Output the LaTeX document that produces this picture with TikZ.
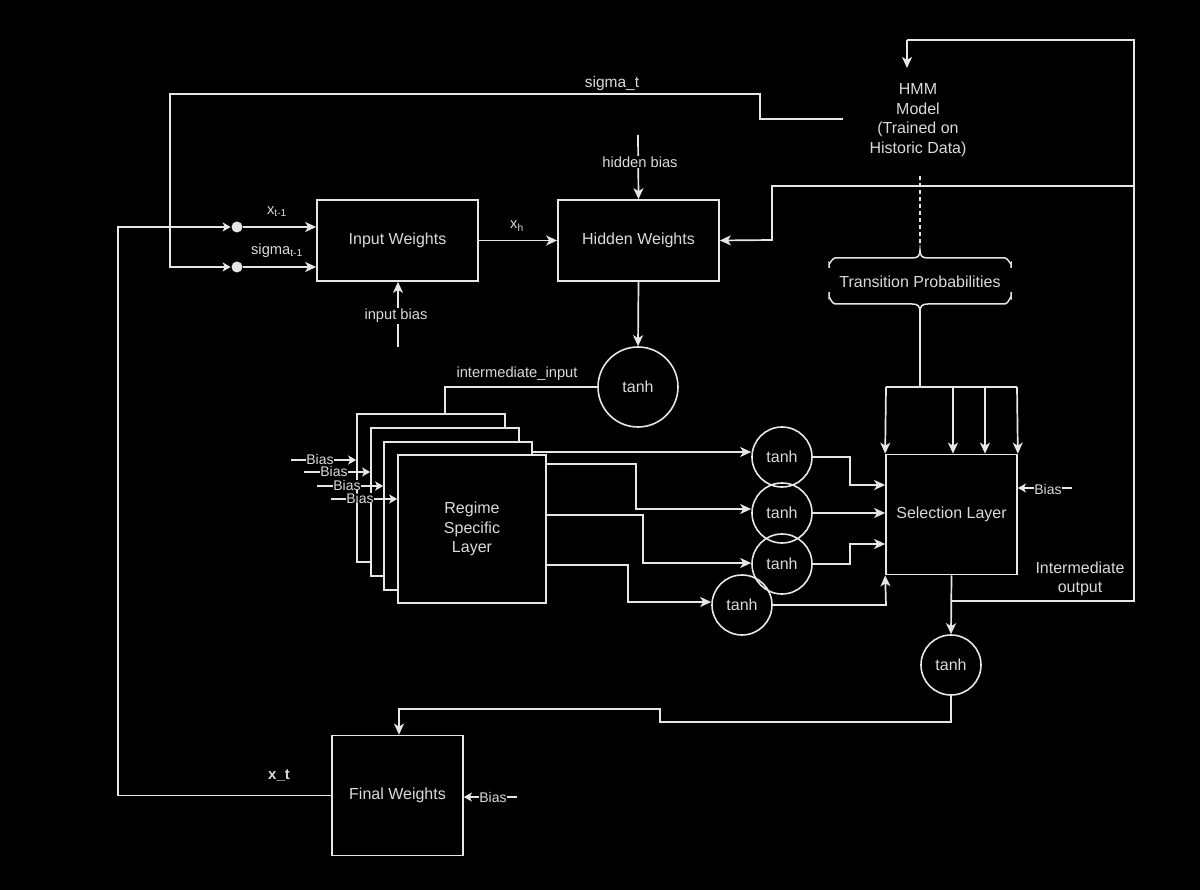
\documentclass[tikz,border=0pt]{standalone}
\usepackage{fontspec}
\setmainfont{Liberation Sans}
\usetikzlibrary{arrows.meta,calc}
\definecolor{fg}{HTML}{E6E6E6}
\definecolor{tx}{HTML}{DADADA}
\begin{document}
\begin{tikzpicture}[x=1pt,y=-1pt,
  color=fg, line width=1.7pt,
  every node/.style={text=tx, font=\fontsize{16}{19.5}\selectfont},
  box/.style={draw=fg, fill=black, line width=1.7pt, inner sep=0pt, align=center},
  circ/.style={draw=fg, circle, line width=1.6pt, inner sep=0pt, minimum size=60pt},
  lbl/.style={font=\fontsize{14.7}{17}\selectfont, inner sep=1pt},
  lblbg/.style={lbl, fill=black},
  arr/.style={-{Stealth[length=11pt,width=10pt,inset=3pt]}},
  arrsm/.style={-{Stealth[length=8pt,width=9pt,inset=2pt]}},
  dot/.style={circle, fill=fg, minimum size=11pt, inner sep=0pt},
  biasl/.style={font=\fontsize{14}{16}\selectfont, fill=black, inner sep=0.3pt},
]
\fill[black] (0,0) rectangle (1200,890);
\useasboundingbox (0,0) rectangle (1200,890);

% main boxes
\node[box, minimum width=161pt, minimum height=81pt] (iw) at (397.5,240.5) {Input Weights};
\node[box, minimum width=161pt, minimum height=81pt] (hw) at (638.5,240.5) {Hidden Weights};
\node[box, minimum width=131pt, minimum height=120pt] (sel) at (951.5,514.5) {Selection Layer};
\node[box, minimum width=131pt, minimum height=120pt] (fw) at (397.5,795.5) {Final Weights};

% regime stack
\node[box, minimum width=148pt, minimum height=148pt] (r1) at (431,488) {};
\node[box, minimum width=148pt, minimum height=148pt] (r2) at (445,502) {};
\node[box, minimum width=148pt, minimum height=148pt] (r3) at (458,516) {};
\node[box, minimum width=148pt, minimum height=148pt] (r4) at (472,529) {Regime\\Specific\\Layer};

% HMM
\node[align=center, inner sep=0pt] (hmm) at (918,120) {HMM\\Model\\(Trained on\\Historic Data)};

% tanh circles
\node[circ, minimum size=80pt] (th0) at (638,387) {tanh};
\node[circ] (t1) at (782,457) {tanh};
\node[circ] (t2) at (782,513) {tanh};
\node[circ] (t3) at (782,564) {tanh};
\node[circ] (t4) at (742,605) {tanh};
\node[circ] (tf) at (951,665) {tanh};

% dots
\node[dot] (d1) at (237,227) {};
\node[dot] (d2) at (237,267) {};

% coordinates
\coordinate (hb) at (638,135);
\coordinate (ib) at (398,347);
\coordinate (hmmL) at (843,119);
\coordinate (hmmT) at (907,68);
\coordinate (hmmB) at (920,176);
\coordinate (selout) at (951,601);
\coordinate (loopR) at (1134,601);
\coordinate (loopTop) at (1134,40);
\coordinate (branch) at (1134,186);

% inputs to input weights
\draw[arr] (d1) -- (iw.west |- d1);
\draw[arr] (d2) -- (iw.west |- d2);
\node[lbl] at (277,212) {x\textsubscript{t-1}};
\node[lbl] at (277,251) {sigma\textsubscript{t-1}};

% input bias
\draw[arr] (ib) -- (iw.south -| ib);
\node[lblbg] at (396,316) {input bias};

% hidden bias
\draw[arr] (hb) -- (hw.north);
\node[lblbg] at (640,162) {hidden bias};

% xh
\draw[arr] (iw.east) -- (hw.west);
\node[lbl] at (517,226) {x\textsubscript{h}};

% hidden -> tanh
\draw[arr] (hw.south) -- (th0.north);

% intermediate input
\draw (th0.west) -- (445,387) -- (445,414);
\node[lbl] at (517,374) {intermediate\_input};

% bias to regime layers
\draw[arrsm] (291,460) -- (r1.west |- 0,460);
\draw[arrsm] (304,472) -- (r2.west |- 0,472);
\draw[arrsm] (317,486) -- (r3.west |- 0,486);
\draw[arrsm] (331,499) -- (r4.west |- 0,499);
\node[biasl] at (320,459) {Bias};
\node[biasl] at (334,471) {Bias};
\node[biasl] at (347,485) {Bias};
\node[biasl] at (360,498) {Bias};

% regime -> tanh
\draw[arr] (r3.east |- 0,452) -- (t1.west |- 0,452);
\draw[arr] (r4.east |- 0,464) -- (636,464) -- (636,509) -- (t2.west |- 0,509);
\draw[arr] (r4.east |- 0,515) -- (643,515) -- (643,563) -- (t3.west |- 0,563);
\draw[arr] (r4.east |- 0,565) -- (628,565) -- (628,602) -- (t4.west |- 0,602);

% tanh -> selection
\draw[arr] (t1.east) -- (850,457) -- (850,485) -- (sel.west |- 0,485);
\draw[arr] (t2.east) -- (sel.west |- t2.east);
\draw[arr] (t3.east) -- (850,564) -- (850,544) -- (sel.west |- 0,544);
\draw[arr] (t4.east) -- (886,605) -- (sel.south west);

% bias to selection
\draw[arrsm] (1072,488) -- (sel.east |- 0,488);
\node[biasl] at (1048,489) {Bias};

% selection -> tanh -> final
\draw[arr] (sel.south) -- (tf.north);
\draw[arr] (tf.south) -- (951,722) -- (660,722) -- (660,709) -- (399,709) -- (fw.north -| 399,0);
\draw[arrsm] (517,797) -- (fw.east |- 0,797);
\node[biasl] at (493,797) {Bias};

% intermediate output loop
\draw (selout) -- (loopR) -- (loopTop) -- (907,40);
\draw[arr] (907,40) -- (hmmT);
\draw[arr] (branch) -- (772,186) -- (772,240) -- (hw.east);
\node[align=center, inner sep=0pt] at (1080,579) {Intermediate\\output};

% sigma_t loop
\draw[arrsm] (hmmL) -- (760,119) -- (760,94) -- (170,94) -- (170,267) -- (d2.west);
\node[lbl, font=\fontsize{15.5}{18}\selectfont] at (612,83) {sigma\_t};

% x_t loop
\draw[arrsm] (fw.west) -| (118,227) -- (d1.west);
\node[lbl, font=\bfseries\fontsize{15}{18}\selectfont] at (279,776) {x\_t};

% HMM -> transition probabilities
\draw[dash pattern=on 4pt off 3pt] (hmmB) -- (920,245);
\node[inner sep=0pt] (tp) at (920,282) {Transition Probabilities};
\draw[line width=1.5pt] (829,268) -- (829,263) to[out=-90,in=180] (835,258) -- (912,258)
  .. controls (918,258) and (920,256) .. (920,250)
  .. controls (920,256) and (922,258) .. (928,258) -- (1005,258) to[out=0,in=-90] (1011,263) -- (1011,268);
\draw[line width=1.5pt] (829,292) -- (829,298) to[out=90,in=180] (835,304) -- (912,304)
  .. controls (918,304) and (920,306) .. (920,312)
  .. controls (920,306) and (922,304) .. (928,304) -- (1005,304) to[out=0,in=90] (1011,298) -- (1011,292);

% transition -> selection
\draw (920,312) -- (920,387);
\draw (886,387) -- (1017,387);
\draw[arr] (886,387) -- (sel.north west);
\draw[arr] (953,387) -- (sel.north -| 953,0);
\draw[arr] (985,387) -- (sel.north -| 985,0);
\draw[arr] (1017,387) -- (sel.north east);
\end{tikzpicture}
\end{document}
